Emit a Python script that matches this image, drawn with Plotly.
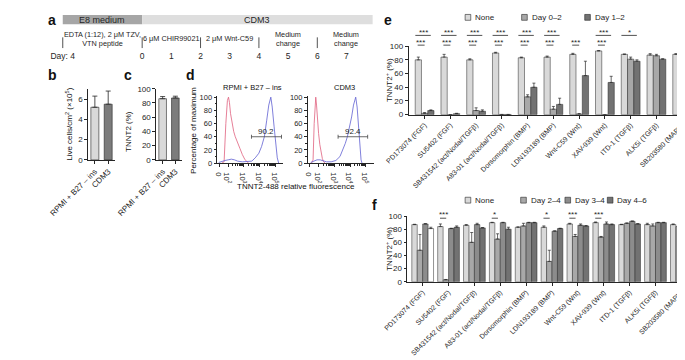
import plotly.graph_objects as go
import math

W, H = 685, 360
FONT = "Liberation Sans, Arial, Helvetica, sans-serif"
INK = "#262626"

# ---------------- data ----------------
# panel a: protocol timeline (day -4 is drawn compressed)
media_names = ["E8 medium", "CDM3"]
media_bounds = [-2.72, 0.0, 7.9]
day_labels = ["Day: 4", "0", "1", "2", "3", "4", "5", "6", "7"]
day_display = [-2.72, 0, 1, 2, 3, 4, 5, 6, 7]
step_labels = ["EDTA (1:12), 2 μM TZV,<br>VTN peptide", "6 μM CHIR99021",
               "2 μM Wnt-C59", "Medium<br>change", "Medium<br>change"]
step_bounds = [-2.72, 0, 2, 4, 6, 8]

# panels b, c
bc_media = ["RPMI + B27 – ins", "CDM3"]
b_cells = [5.2, 5.5]
b_cells_err = [1.1, 1.3]
c_tnnt2 = [86, 87]
c_tnnt2_err = [3, 2.5]

# panel d: flow histograms (x in decades, y in % of max)
d_titles = ["RPMI + B27 – ins", "CDM3"]
d_gate_labels = ["90.2", "92.4"]
d_gate_lo = [3.48, 3.24]
d_gate_hi = [5.39, 5.12]
d_gate_y = [40, 40]
d1_ctrl_x = [1.6, 1.74, 1.85, 1.95, 2.02, 2.08, 2.15, 2.25, 2.35, 2.45, 2.6, 2.75, 2.9, 3.05, 3.2, 3.3]
d1_ctrl_y = [0, 2, 60, 95, 100, 92, 75, 60, 48, 40, 32, 22, 13, 6, 2, 0]
d1_stain_x = [1.4, 1.6, 1.8, 2.0, 2.2, 2.4, 2.6, 2.9, 3.2, 3.5, 3.72, 3.95, 4.12, 4.3,
              4.45, 4.58, 4.71, 4.8, 4.92, 5.03, 5.12, 5.21]
d1_stain_y = [1, 3, 4, 5, 6, 5, 3, 2, 2, 3, 8, 15, 25, 40, 65, 88, 100, 85, 55, 25, 8, 0]
d2_ctrl_x = [1.55, 1.65, 1.72, 1.78, 1.82, 1.87, 1.93, 2.0, 2.08, 2.16, 2.24, 2.32, 2.42]
d2_ctrl_y = [0, 5, 60, 95, 100, 88, 65, 45, 28, 15, 7, 2, 0]
d2_stain_x = [1.5, 1.7, 1.9, 2.1, 2.3, 2.5, 2.8, 3.1, 3.36, 3.55, 3.7, 3.83, 3.98, 4.1,
              4.22, 4.36, 4.45, 4.55, 4.63, 4.7, 4.76]
d2_stain_y = [1, 3, 5, 5, 3, 2, 2, 4, 10, 20, 30, 40, 55, 70, 88, 100, 85, 50, 20, 5, 0]

# panels e, f: small-molecule inhibitors
compounds = ["PD173074 (FGF)", "SU5402 (FGF)", "SB431542 (act/Nodal/TGFβ)",
             "A83-01 (act/Nodal/TGFβ)", "Dorsomorphin (BMP)", "LDN193189 (BMP)",
             "Wnt-C59 (Wnt)", "XAV-939 (Wnt)", "ITD-1 (TGFβ)", "ALK5i (TGFβ)",
             "SB203580 (MAPK)"]
e_series = ["None", "Day 0–2", "Day 1–2"]
e_none = [80, 84, 80, 90, 83, 84, 88, 93, 88, 87, 88]
e_none_err = [4, 4, 1.5, 1, 1, 1.5, 1.5, 0.5, 0.5, 2, 1]
e_d02 = [2, 0, 6, 0.3, 26, 8, 1, 0, 81, 86, 83]
e_d02_err = [1, 0, 4, 0, 3, 4, 0.5, 0, 3, 2, 4]
e_d12 = [6, 1.5, 5, 0.3, 40, 15, 57, 47, 78, 81, 83]
e_d12_err = [1, 0.5, 2, 0, 6, 9, 21, 9, 2, 0.5, 4]
e_sig_upper = ["***", "***", "***", "***", "***", "***", "", "***", "*", "", ""]
e_sig_lower = ["***", "***", "***", "***", "***", "***", "***", "***", "", "", ""]

f_series = ["None", "Day 2–4", "Day 3–4", "Day 4–6"]
f_none = [87, 84, 86, 90, 83, 83, 88, 90, 87, 87, 87]
f_none_err = [0.5, 4, 1, 0.5, 0.5, 2, 1, 1, 0.5, 2, 1]
f_d24 = [48, 3, 60, 65, 85, 31, 69, 68, 89, 85, 84]
f_d24_err = [24, 0.5, 15, 8, 4, 17, 3, 1, 0.5, 3, 3]
f_d34 = [88, 81, 87, 90, 90, 77, 86, 88, 92, 90, 88]
f_d34_err = [0.5, 0.5, 2, 0.5, 0.5, 0.5, 2, 3, 0.5, 0.5, 1]
f_d46 = [81, 83, 82, 80, 90, 81, 85, 87, 88, 90, 86]
f_d46_err = [2, 2, 0.5, 3, 0.5, 0.5, 0.5, 1, 0.5, 0.5, 2]
f_sig = ["", "***", "", "*", "", "*", "***", "***", "", "", ""]

# ---------------- helpers ----------------
def X(px):
    return px / W


def Y(py):
    return 1 - py / H


C_NONE = "#d9d9d9"
C_MID = "#a8a8a8"
C_MID2 = "#8c8c8c"
C_DARK = "#727272"
C_RED = "#e0607e"
C_BLUE = "#5f5fd2"

axis_base = dict(showline=True, linecolor=INK, linewidth=0.8, ticks="outside", ticklen=3,
                 tickwidth=0.8, tickcolor=INK, showgrid=False, zeroline=False,
                 fixedrange=True, tickfont=dict(size=8, color=INK, family=FONT))

fig = go.Figure()
ann = []
shapes = []

# ---------------- panel a ----------------
fig.add_trace(go.Scatter(x=day_display, y=[46] * len(day_display), mode="text",
                         text=day_labels, textfont=dict(size=8.5, color=INK, family=FONT),
                         xaxis="x7", yaxis="y7", hoverinfo="skip", showlegend=False))
media_cols = ["#a6a6a6", "#dedede"]
for i, name in enumerate(media_names):
    shapes.append(dict(type="rect", xref="x7", yref="paper", x0=media_bounds[i],
                       x1=media_bounds[i + 1], y0=Y(12.5), y1=Y(3), fillcolor=media_cols[i],
                       line=dict(width=0), layer="below"))
    ann.append(dict(x=(media_bounds[i] + media_bounds[i + 1]) / 2, y=Y(8), xref="x7",
                    yref="paper", text=name, showarrow=False,
                    font=dict(size=9, color=INK), xanchor="center", yanchor="middle"))
for b in step_bounds[:-1]:
    shapes.append(dict(type="line", xref="x7", yref="paper", x0=b, x1=b, y0=Y(37),
                       y1=Y(26), line=dict(color=INK, width=0.8)))
for i, lab in enumerate(step_labels):
    ann.append(dict(x=(step_bounds[i] + step_bounds[i + 1]) / 2, y=Y(27.5), xref="x7",
                    yref="paper", text=lab, showarrow=False,
                    font=dict(size=7.3, color=INK), xanchor="center", yanchor="middle"))

# ---------------- panels b, c ----------------
for vals, errs, xa, ya in [(b_cells, b_cells_err, "x", "y"),
                           (c_tnnt2, c_tnnt2_err, "x2", "y2")]:
    fig.add_trace(go.Bar(x=bc_media, y=vals, width=0.6, offset=-0.3,
                         marker=dict(color=[C_NONE, "#7c7c7c"], line=dict(color=INK, width=0.6)),
                         error_y=dict(type="data", symmetric=False, array=errs,
                                      arrayminus=[0] * len(errs), color=INK,
                                      thickness=0.8, width=2.5),
                         xaxis=xa, yaxis=ya, showlegend=False, hoverinfo="skip"))

# ---------------- panel d ----------------
for ctrl_x, ctrl_y, st_x, st_y, xa, ya in [
        (d1_ctrl_x, d1_ctrl_y, d1_stain_x, d1_stain_y, "x3", "y3"),
        (d2_ctrl_x, d2_ctrl_y, d2_stain_x, d2_stain_y, "x4", "y4")]:
    fig.add_trace(go.Scatter(x=ctrl_x, y=ctrl_y, mode="lines",
                             line=dict(color=C_RED, width=0.8), xaxis=xa, yaxis=ya,
                             showlegend=False, hoverinfo="skip"))
    fig.add_trace(go.Scatter(x=st_x, y=st_y, mode="lines",
                             line=dict(color=C_BLUE, width=0.8), xaxis=xa, yaxis=ya,
                             showlegend=False, hoverinfo="skip"))
for i, (xa, ya) in enumerate([("x3", "y3"), ("x4", "y4")]):
    shapes.append(dict(type="line", xref=xa, yref=ya, x0=d_gate_lo[i], x1=d_gate_hi[i],
                       y0=d_gate_y[i], y1=d_gate_y[i], line=dict(color="#444", width=0.8)))
    for gx in (d_gate_lo[i], d_gate_hi[i]):
        shapes.append(dict(type="line", xref=xa, yref=ya, x0=gx, x1=gx,
                           y0=d_gate_y[i] - 3, y1=d_gate_y[i] + 3,
                           line=dict(color="#444", width=0.8)))
    ann.append(dict(x=(d_gate_lo[i] + d_gate_hi[i]) / 2, y=d_gate_y[i], xref=xa, yref=ya,
                    text=d_gate_labels[i], showarrow=False, yanchor="bottom",
                    font=dict(size=8, color=INK), yshift=-1))

# ---------------- panels e, f ----------------
e_vals = [(e_none, e_none_err), (e_d02, e_d02_err), (e_d12, e_d12_err)]
e_cols = [C_NONE, C_MID, C_DARK]
EW = 0.2433
for i, (v, er) in enumerate(e_vals):
    fig.add_trace(go.Bar(x=compounds, y=v, width=EW, offset=-1.5 * EW + i * EW,
                         marker=dict(color=e_cols[i], line=dict(color=INK, width=0.5)),
                         error_y=dict(type="data", symmetric=False, array=er,
                                      arrayminus=[0] * len(er), color=INK,
                                      thickness=0.7, width=1.5),
                         name=e_series[i], xaxis="x5", yaxis="y5", showlegend=False,
                         hoverinfo="skip"))

f_vals = [(f_none, f_none_err), (f_d24, f_d24_err), (f_d34, f_d34_err), (f_d46, f_d46_err)]
f_cols = [C_NONE, C_MID, C_MID2, C_DARK]
FW = 0.21
for i, (v, er) in enumerate(f_vals):
    col = f_cols[i]
    if i == 3:
        col = ["#ffffff"] + [C_DARK] * (len(v) - 1)
    fig.add_trace(go.Bar(x=compounds, y=v, width=FW, offset=-2 * FW + i * FW,
                         marker=dict(color=col, line=dict(color=INK, width=0.5)),
                         error_y=dict(type="data", symmetric=False, array=er,
                                      arrayminus=[0] * len(er), color=INK,
                                      thickness=0.7, width=1.5),
                         name=f_series[i], xaxis="x6", yaxis="y6", showlegend=False,
                         hoverinfo="skip"))

# significance marks
for g, s in enumerate(e_sig_upper):
    if s:
        shapes.append(dict(type="line", xref="x5", yref="paper", x0=g - 0.36, x1=g + 0.24,
                           y0=Y(24), y1=Y(24), line=dict(color=INK, width=0.8)))
        ann.append(dict(x=g - 0.06, y=Y(21), xref="x5", yref="paper", text=s,
                        showarrow=False, font=dict(size=8, color=INK), yanchor="middle"))
for g, s in enumerate(e_sig_lower):
    if s:
        shapes.append(dict(type="line", xref="x5", yref="paper", x0=g - 0.27, x1=g + 0.0,
                           y0=Y(34), y1=Y(34), line=dict(color=INK, width=0.8)))
        ann.append(dict(x=g - 0.14, y=Y(31), xref="x5", yref="paper", text=s,
                        showarrow=False, font=dict(size=8, color=INK), yanchor="middle"))
for g, s in enumerate(f_sig):
    if s:
        shapes.append(dict(type="line", xref="x6", yref="paper", x0=g - 0.33, x1=g - 0.09,
                           y0=Y(211.5), y1=Y(211.5), line=dict(color=INK, width=0.8)))
        ann.append(dict(x=g - 0.21, y=Y(208), xref="x6", yref="paper", text=s,
                        showarrow=False, font=dict(size=8, color=INK), yanchor="middle"))


# manual legends
def add_legend(names, cols, xs, ypx):
    for n, c, xp in zip(names, cols, xs):
        shapes.append(dict(type="rect", xref="paper", yref="paper", x0=X(xp), x1=X(xp + 6),
                           y0=Y(ypx + 3), y1=Y(ypx - 3), fillcolor=c,
                           line=dict(color=INK, width=0.6)))
        ann.append(dict(x=X(xp + 8.5), y=Y(ypx), xref="paper", yref="paper", text=n,
                        showarrow=False, xanchor="left", yanchor="middle",
                        font=dict(size=8, color=INK)))


add_legend(e_series, e_cols, [443, 503, 570], 5.5)
add_legend(f_series, f_cols, [443, 502, 549, 594], 193)

# ---------------- titles / labels ----------------
def label(text, xp, yp, size=8, angle=0, bold=False, anchor="center"):
    ann.append(dict(x=X(xp), y=Y(yp), xref="paper", yref="paper",
                    text=f"<b>{text}</b>" if bold else text, showarrow=False,
                    textangle=angle, xanchor=anchor, yanchor="middle",
                    font=dict(size=size, color="#111")))


for t, xp, yp in [("a", 4, 8), ("b", 5, 65), ("c", 85, 65), ("d", 151, 65),
                  ("e", 361, 8), ("f", 347, 198)]:
    label(t, xp, yp, size=14, bold=True)

label("Live cells/cm<sup>2</sup> (×10<sup>5</sup>)", 22, 115, angle=-90)
label("TNNT2 (%)", 86, 122, angle=-90)
label("Percentage of maximum", 155, 121, size=8, angle=-90)
label(d_titles[0], 217, 77, size=7.5)
label(d_titles[1], 315, 77, size=7.5)
label("TNNT2-488 relative fluorescence", 263, 179, size=8)
label("TNNT2<sup>+</sup> (%)", 362, 70, angle=-90)
label("TNNT2<sup>+</sup> (%)", 362, 243, angle=-90)

# ---------------- axes ----------------
cat_axis = dict(axis_base, type="category", tickangle=-45,
                tickfont=dict(size=7, color=INK, family=FONT))
d_minor = [d + math.log10(k) for d in (2, 3, 4) for k in range(2, 10)]
d_x = dict(axis_base, range=[1.32, 5.51], tickvals=[1.45, 2, 3, 4, 5],
           ticktext=["0", "10<sup>2</sup>", "10<sup>3</sup>", "10<sup>4</sup>", "10<sup>5</sup>"],
           minor=dict(tickmode="array", tickvals=d_minor, ticklen=1.5, tickcolor=INK),
           tickfont=dict(size=7.5, color=INK, family=FONT))
d_y = dict(axis_base, range=[0, 102], tickvals=[0, 20, 40, 60, 80, 100],
           minor=dict(dtick=10, ticklen=1.5, tickcolor=INK),
           tickfont=dict(size=7.5, color=INK, family=FONT))

fig.update_layout(
    width=W, height=H, margin=dict(l=0, r=0, t=0, b=0),
    paper_bgcolor="white", plot_bgcolor="white", showlegend=False,
    barmode="group", font=dict(family=FONT, size=8, color=INK),
    xaxis=dict(cat_axis, domain=[X(42.7), X(71)], range=[-0.5, 1.5], anchor="y",
               tickfont=dict(size=8, color=INK, family=FONT)),
    yaxis=dict(axis_base, domain=[Y(151.7), Y(79)], range=[0, 7], tickvals=[0, 2, 4, 6],
               anchor="x"),
    xaxis2=dict(cat_axis, domain=[X(115), X(142)], range=[-0.5, 1.5], anchor="y2",
                tickfont=dict(size=8, color=INK, family=FONT)),
    yaxis2=dict(axis_base, domain=[Y(151.7), Y(78.7)], range=[0, 100],
                tickvals=[0, 20, 40, 60, 80, 100], anchor="x2"),
    xaxis3=dict(d_x, domain=[X(180), X(250)], anchor="y3"),
    yaxis3=dict(d_y, domain=[Y(155), Y(86)], anchor="x3"),
    xaxis4=dict(d_x, domain=[X(276), X(346)], anchor="y4"),
    yaxis4=dict(d_y, domain=[Y(155), Y(86)], anchor="x4"),
    xaxis5=dict(cat_axis, domain=[X(383), 1], range=[-0.62, 10.42], anchor="y5"),
    yaxis5=dict(axis_base, domain=[Y(105.3), Y(35)], range=[0, 100],
                tickvals=[0, 20, 40, 60, 80, 100], anchor="x5"),
    xaxis6=dict(cat_axis, domain=[X(381.7), 1], range=[-0.59, 10.45], anchor="y6"),
    yaxis6=dict(axis_base, domain=[Y(276.7), Y(209.3)], range=[0, 100],
                tickvals=[0, 20, 40, 60, 80, 100], anchor="x6"),
    xaxis7=dict(domain=[0, X(345)], range=[-100 / 31, 245 / 31], visible=False,
                fixedrange=True, anchor="y7"),
    yaxis7=dict(domain=[Y(55), 1], range=[55, 0], visible=False, fixedrange=True,
                anchor="x7"),
    annotations=ann, shapes=shapes,
)

fig.write_html("out.html")
